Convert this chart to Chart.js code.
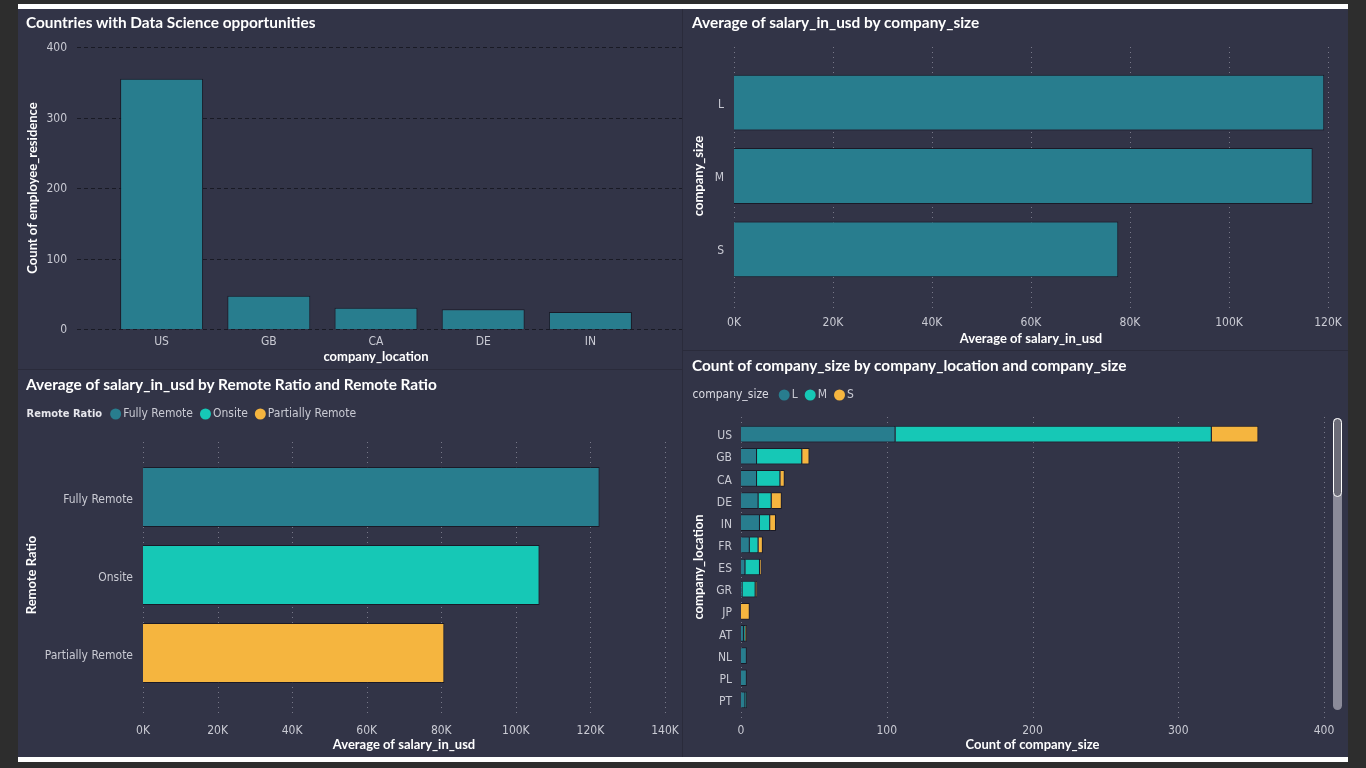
<!DOCTYPE html>
<html><head><meta charset="utf-8">
<script src="https://cdn.jsdelivr.net/npm/chart.js@4.4.1/dist/chart.umd.min.js"></script>
<style>
html,body{margin:0;padding:0;background:#2d2d2d;width:1366px;height:768px;overflow:hidden;}
.wbar{position:absolute;background:#fff;}
.dash{position:absolute;left:18px;top:9px;width:1330px;height:748px;background:#2a2b3b;}
.panel{position:absolute;background:#323447;overflow:hidden;}
.panel canvas{position:absolute;left:0;top:0;}
.ttl{position:absolute;color:#fff;font:700 15.4px Lato,'Open Sans',sans-serif;line-height:20px;white-space:nowrap;}
.track{position:absolute;background:#8b8b99;border-radius:5px;}
.thumb{position:absolute;background:#6c6c78;border:1.5px solid #fff;border-radius:6px;box-sizing:border-box;}
</style></head><body>
<div class="wbar" style="left:18px;top:4px;width:1330px;height:5px"></div>
<div class="dash"></div>
<div class="wbar" style="left:18px;top:757px;width:1330px;height:5px"></div>

<div class="panel" style="left:18px;top:9px;width:664px;height:360px"><canvas id="cA" width="664" height="360"></canvas><div class="ttl" style="left:8px;top:3px">Countries with Data Science opportunities</div></div>
<div class="panel" style="left:683px;top:9px;width:665px;height:341px"><canvas id="cB" width="665" height="341"></canvas><div class="ttl" style="left:9px;top:3px">Average of salary_in_usd by company_size</div></div>
<div class="panel" style="left:18px;top:370px;width:664px;height:387px"><canvas id="cC" width="664" height="387"></canvas><div class="ttl" style="left:8px;top:4px">Average of salary_in_usd by Remote Ratio and Remote Ratio</div></div>
<div class="panel" style="left:683px;top:351px;width:665px;height:406px"><canvas id="cD" width="665" height="406"></canvas><div class="ttl" style="left:9px;top:4px">Count of company_size by company_location and company_size</div>
<div class="track" style="left:650px;top:67px;width:9px;height:292px"></div>
<div class="thumb" style="left:650px;top:67px;width:9px;height:79px"></div>
</div>

<script>
// ---- data ----
const topLocations = ['US','GB','CA','DE','IN'];
const topLocationCounts = [355, 47, 30, 28, 24];

const companySizes = ['L','M','S'];
const avgSalaryBySize = [119243, 116905, 77633];

const remoteRatios = ['Fully Remote','Onsite','Partially Remote'];
const avgSalaryByRemote = [122457, 106354, 80823];

const locations = ['US','GB','CA','DE','IN','FR','ES','GR','JP','AT','NL','PL','PT'];
const countSizeL = [106, 11, 11, 12, 13, 6, 3, 1, 0, 2, 4, 4, 3];
const countSizeM = [217, 31, 16, 9, 7, 6, 10, 9, 0, 1, 0, 0, 1];
const countSizeS = [32, 5, 3, 7, 4, 3, 1, 1, 6, 1, 0, 0, 0];

const salaryTicks = v => (v/1000) + 'K';

// ---- style ----
const TEAL = '#287d8e', AQUA = '#16c8b6', GOLD = '#f5b53f';
const EDGE = 'rgba(22,22,34,0.85)';
const TICK = '#c9cad3';
const FAM = "'Liberation Sans Narrow','DejaVu Sans Condensed',Roboto,sans-serif";
const TF = {family:FAM, size:12};
const AF = {family:"Lato,'Open Sans',sans-serif", size:13, weight:'bold'};
const DOT = 'rgba(205,205,215,0.45)';

const extGrid = {
  id:'extGrid',
  beforeDatasetsDraw(chart, args, o){
    if(!o || !o.axis) return;
    const s = chart.scales[o.axis], ctx = chart.ctx;
    ctx.save();
    ctx.strokeStyle = o.color; ctx.lineWidth = 1; ctx.setLineDash(o.dash);
    s.ticks.forEach(t => {
      const p = Math.round(s.getPixelForValue(t.value)) + 0.5;
      ctx.beginPath();
      if(o.axis === 'x'){ ctx.moveTo(p, o.from); ctx.lineTo(p, o.to); }
      else { ctx.moveTo(o.from, p); ctx.lineTo(o.to, p); }
      ctx.stroke();
    });
    ctx.restore();
  }
};
const pbLegend = {
  id:'pbLegend',
  afterDraw(chart, args, o){
    if(!o || !o.title) return;
    const ctx = chart.ctx; ctx.save();
    ctx.textBaseline = 'middle';
    ctx.font = o.titleFont; ctx.fillStyle = o.titleColor;
    let x = o.x; ctx.fillText(o.title, x, o.y);
    x += ctx.measureText(o.title).width + o.gapTitle;
    chart.data.datasets.forEach(ds => {
      const r = 5.5;
      ctx.fillStyle = ds.backgroundColor; ctx.beginPath(); ctx.arc(x + r, o.y, r, 0, Math.PI*2); ctx.fill();
      x += 2*r + o.gapDot;
      ctx.font = o.font; ctx.fillStyle = o.color; ctx.fillText(ds.label, x, o.y);
      x += ctx.measureText(ds.label).width + o.gapItem;
    });
    ctx.restore();
  }
};
Chart.register(extGrid, pbLegend);

function mkTicks(o){
  const t = {color:TICK, font:TF, padding:o.pad};
  if(o.cb) t.callback = o.cb;
  if(o.step) t.stepSize = o.step;
  if(o.lo) t.labelOffset = o.lo;
  return t;
}
function axisX(o){
  return Object.assign({
    grid:{display:false, drawTicks:false}, border:{display:false},
    ticks:mkTicks(o),
    title:{display:true, text:o.title, color:'#fff', font:AF, padding:{top:0,bottom:o.tpad}},
    afterFit(s){ s.height = o.h; s.paddingLeft = 0; s.paddingRight = 0; }
  }, o.extra || {});
}
function axisY(o){
  return Object.assign({
    grid:{display:false, drawTicks:false}, border:{display:false},
    ticks:mkTicks(o),
    title:{display:true, text:o.title, color:'#fff', font:AF, padding:{top:o.tpad,bottom:0}},
    afterFit(s){ s.width = o.w; s.paddingTop = 0; s.paddingBottom = 0; }
  }, o.extra || {});
}
const base = {responsive:false, animation:false, events:[]};

// ---- Chart A ----
new Chart(document.getElementById('cA'), {
  type:'bar',
  data:{labels: topLocations, datasets:[{label:'Count of employee_residence', data: topLocationCounts, backgroundColor: TEAL, borderColor: EDGE, borderWidth:1, barPercentage:0.774, categoryPercentage:1}]},
  options:Object.assign({}, base, {
    layout:{padding:{left:0,right:38,top:38,bottom:0}},
    plugins:{legend:{display:false}, tooltip:{enabled:false},
      extGrid:{axis:'y', from:59, to:664, dash:[4,3], color:'rgba(18,18,26,0.75)'}},
    scales:{
      x: axisX({pad:6, title:'company_location', tpad:4, h:40}),
      y: axisY({pad:41, step:100, lo:1, title:'Count of employee_residence', tpad:7, w:90, extra:{min:0, max:400}})
    }
  })
});

// ---- Chart B ----
new Chart(document.getElementById('cB'), {
  type:'bar',
  data:{labels: companySizes, datasets:[{label:'Average of salary_in_usd', data: avgSalaryBySize, backgroundColor: TEAL, borderColor: EDGE, borderWidth:1, barPercentage:0.762, categoryPercentage:1}]},
  options:Object.assign({}, base, {
    indexAxis:'y',
    layout:{padding:{left:0,right:20,top:57,bottom:0}},
    plugins:{legend:{display:false}, tooltip:{enabled:false},
      extGrid:{axis:'x', from:38, to:299, dash:[1,4], color:DOT}},
    scales:{
      x: axisX({pad:30, step:20000, cb:salaryTicks, title:'Average of salary_in_usd', tpad:3, h:64, extra:{min:0, max:120000}}),
      y: axisY({pad:10, lo:2, title:'company_size', tpad:8, w:51})
    }
  })
});

// ---- Chart C ----
const remoteColors = [TEAL, AQUA, GOLD];
new Chart(document.getElementById('cC'), {
  type:'bar',
  data:{labels: remoteRatios, datasets: remoteRatios.map((r,i) => ({
    label:r, data: avgSalaryByRemote.map((v,j) => j === i ? v : null),
    backgroundColor: remoteColors[i], borderColor: EDGE, borderWidth:1, barPercentage:0.769, categoryPercentage:1, grouped:false
  }))},
  options:Object.assign({}, base, {
    indexAxis:'y',
    layout:{padding:{left:0,right:17,top:88,bottom:0}},
    plugins:{legend:{display:false}, tooltip:{enabled:false},
      extGrid:{axis:'x', from:72, to:346, dash:[1,4], color:DOT},
      pbLegend:{title:'Remote Ratio', x:8.6, y:44, titleFont:"bold 11px " + FAM, titleColor:'#e6e6ec',
        font:"12px " + FAM, color:TICK, gapTitle:8, gapDot:2, gapItem:7}},
    scales:{
      x: axisX({pad:32, step:20000, cb:salaryTicks, title:'Average of salary_in_usd', tpad:4, h:65, extra:{min:0, max:140000}}),
      y: axisY({pad:10, lo:3, title:'Remote Ratio', tpad:6, w:125})
    }
  })
});

// ---- Chart D ----
new Chart(document.getElementById('cD'), {
  type:'bar',
  data:{labels: locations, datasets:[
    {label:'L', data: countSizeL.map(v => v || null), backgroundColor: TEAL},
    {label:'M', data: countSizeM.map(v => v || null), backgroundColor: AQUA},
    {label:'S', data: countSizeS.map(v => v || null), backgroundColor: GOLD}
  ].map(d => Object.assign(d, {borderColor: EDGE, borderWidth:1, barPercentage:0.753, categoryPercentage:1}))},
  options:Object.assign({}, base, {
    indexAxis:'y',
    layout:{padding:{left:0,right:24,top:72,bottom:0}},
    plugins:{legend:{display:false}, tooltip:{enabled:false},
      extGrid:{axis:'x', from:66, to:367, dash:[1,4], color:DOT},
      pbLegend:{title:'company_size', x:9.6, y:44, titleFont:"12px " + FAM, titleColor:'#dcdce4',
        font:"12px " + FAM, color:TICK, gapTitle:10, gapDot:2, gapItem:7}},
    scales:{
      x: axisX({pad:13, step:100, title:'Count of company_size', tpad:4, h:46, extra:{stacked:true, min:0, max:400}}),
      y: axisY({pad:9, lo:2, title:'company_location', tpad:7.6, w:58, extra:{stacked:true}})
    }
  })
});
</script>
</body></html>
